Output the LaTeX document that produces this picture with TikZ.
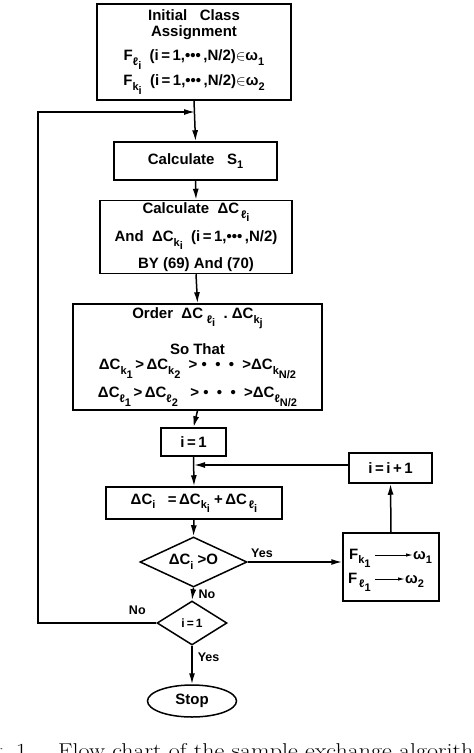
\documentclass[tikz,border=0pt]{standalone}
\usepackage{fontspec}
\usetikzlibrary{shapes.geometric,arrows.meta}
\newfontfamily\lettrage{Liberation Sans}

\newcommand{\bas}[1]{\raisebox{-0.6ex}{\fontsize{11}{11}\selectfont #1}}

\begin{document}
\begin{tikzpicture}[x=1pt,y=-1pt]
        \tikzstyle{boite}=[draw, line width=1.5pt, align=center, inner sep=0, font=\lettrage\bfseries\fontsize{15}{16}\selectfont];
        \tikzstyle{losange}=[boite, diamond];
        \tikzstyle{texte}=[inner sep=0, font=\lettrage\bfseries\fontsize{15}{16}\selectfont];
        \tikzstyle{etiquette}=[inner sep=0, font=\lettrage\bfseries\fontsize{12.5}{14}\selectfont];
        \tikzstyle{trait}=[line width=1.5pt];
        \tikzstyle{fleche}=[trait, -{Latex[length=11pt,width=6pt]}];
        \tikzstyle{petitefleche}=[line width=1pt, -{Latex[length=7pt,width=3.5pt]}];

        \useasboundingbox (0,0) rectangle (474,753);

        % colonne principale
        \node[boite, minimum width=194, minimum height=96] (init) at (194,52)
          {Initial\ \ \ Class\\Assignment\\[8pt]
           F\bas{ℓ\bas{i}}\ \ (i\,=\,1,•••\,,N/2)$\in$ω\bas{1}\\[5pt]
           F\bas{k\bas{i}}\ \ (i\,=\,1,•••\,,N/2)$\in$ω\bas{2}};
        \node[boite, minimum width=163, minimum height=38] (calcS) at (195.5,161) {Calculate\ \ \ S\bas{1}};
        \node[boite, minimum width=192, minimum height=73] (calcC) at (196,237)
          {Calculate\ \ ΔC\bas{\,ℓ\bas{i}}\\[8pt]
           And\ \ ΔC\bas{k\bas{i}}\ \ (i\,=\,1,•••\,,N/2)\\[7pt]
           BY\ (69)\ And\ (70)};
        \node[boite, minimum width=249, minimum height=106] (ordre) at (197.5,357)
          {Order\ \ ΔC\bas{\,\,ℓ\bas{i}}\ \ .\ ΔC\bas{k\bas{j}}\\[14pt]
           So\ That\\[-1pt]
           ΔC\bas{k\bas{1}}\,>\,ΔC\bas{k\bas{2}}\ \ >\ •\ \ •\ \ •\ \ >ΔC\bas{k\bas{N/2}}\\[8pt]
           ΔC\bas{ℓ\bas{1}}\,>\,ΔC\bas{ℓ\bas{2}}\ \ \ >\ •\ \ •\ \ •\ \ >ΔC\bas{ℓ\bas{N/2}}};
        \node[boite, minimum width=65, minimum height=28] (debut) at (193.5,442) {i\,=\,1};
        \node[boite, minimum width=176, minimum height=32] (delta) at (194,503)
          {ΔC\bas{i}\ \ \ =\,ΔC\bas{k\bas{i}}\ +\,ΔC\bas{\,ℓ\bas{i}}};
        \node[losange, aspect=2.14, minimum width=107, minimum height=50] (test) at (193.5,562) {ΔC\bas{i}\ >O};
        \node[losange, aspect=1.6, minimum width=70, minimum height=44] (fin) at (192,623) {\fontsize{12}{12}\selectfont i\,=\,1};
        \node[boite, ellipse, minimum width=89, minimum height=32] (stop) at (192,701) {Stop};

        % branche de droite
        \node[boite, minimum width=83, minimum height=30] (incr) at (390.5,468) {i\,=\,i\,+\,1};
        \node[boite, minimum width=96, minimum height=68] (affect) at (391,567) {};
        \node[texte, anchor=base west] (Fk) at (349,559) {F\bas{k\bas{1}}};
        \node[texte, anchor=base west] (w1) at (413,559) {ω\bas{1}};
        \node[texte, anchor=base west] (Fl) at (348,583) {F\bas{\,ℓ\bas{1}}};
        \node[texte, anchor=base west] (w2) at (405,583) {ω\bas{2}};

        \coordinate (retour) at (195,112);
        \coordinate (coin) at (38,112);
        \coordinate (jonction) at (194,465);

        % liaisons
        \draw[fleche] (init.south) -- (calcS.north);
        \draw[fleche] (fin.west) -| node[etiquette, pos=0.08, above=8pt]{No} (coin) -- (retour);
        \draw[fleche] (calcS.south) -- (calcC.north);
        \draw[fleche] (calcC.south) -- (ordre.north);
        \draw[fleche] (ordre.south) -- (debut.north);
        \draw[fleche] (debut.south) -- (delta.north);
        \draw[fleche] (incr.west |- jonction) -- (jonction);
        \draw[fleche] (delta.south) -- (test.north);
        \draw[fleche] (test.east) -- node[etiquette, pos=0.15, above=4pt]{Yes} (test.east -| affect.west);
        \draw[fleche] (affect.north) -- (incr.south);
        \draw[fleche] (test.south) -- node[etiquette, right=5pt]{No} (fin.north);
        \draw[fleche] (fin.south) -- node[etiquette, pos=0.3, right=5pt]{Yes} (stop.north);
        \draw[petitefleche] ([yshift=4pt]Fk.base east) ++(4,0) -- ([yshift=4pt]w1.base west);
        \draw[petitefleche] ([yshift=4pt]Fl.base east) ++(4,0) -- ([yshift=4pt]w2.base west);

        % legende
        \node[anchor=base east, inner sep=0, font=\fontsize{20}{20}\selectfont] (fig) at (33,757) {\scalebox{1.2}[1]{Fig.\ 1.}};
        \node[anchor=base west, inner sep=0, font=\fontsize{20}{20}\selectfont] (legende) at (58,757) {\scalebox{1.2}[1]{Flow chart of the sample exchange algorithm}};
    \end{tikzpicture}
\end{document}
